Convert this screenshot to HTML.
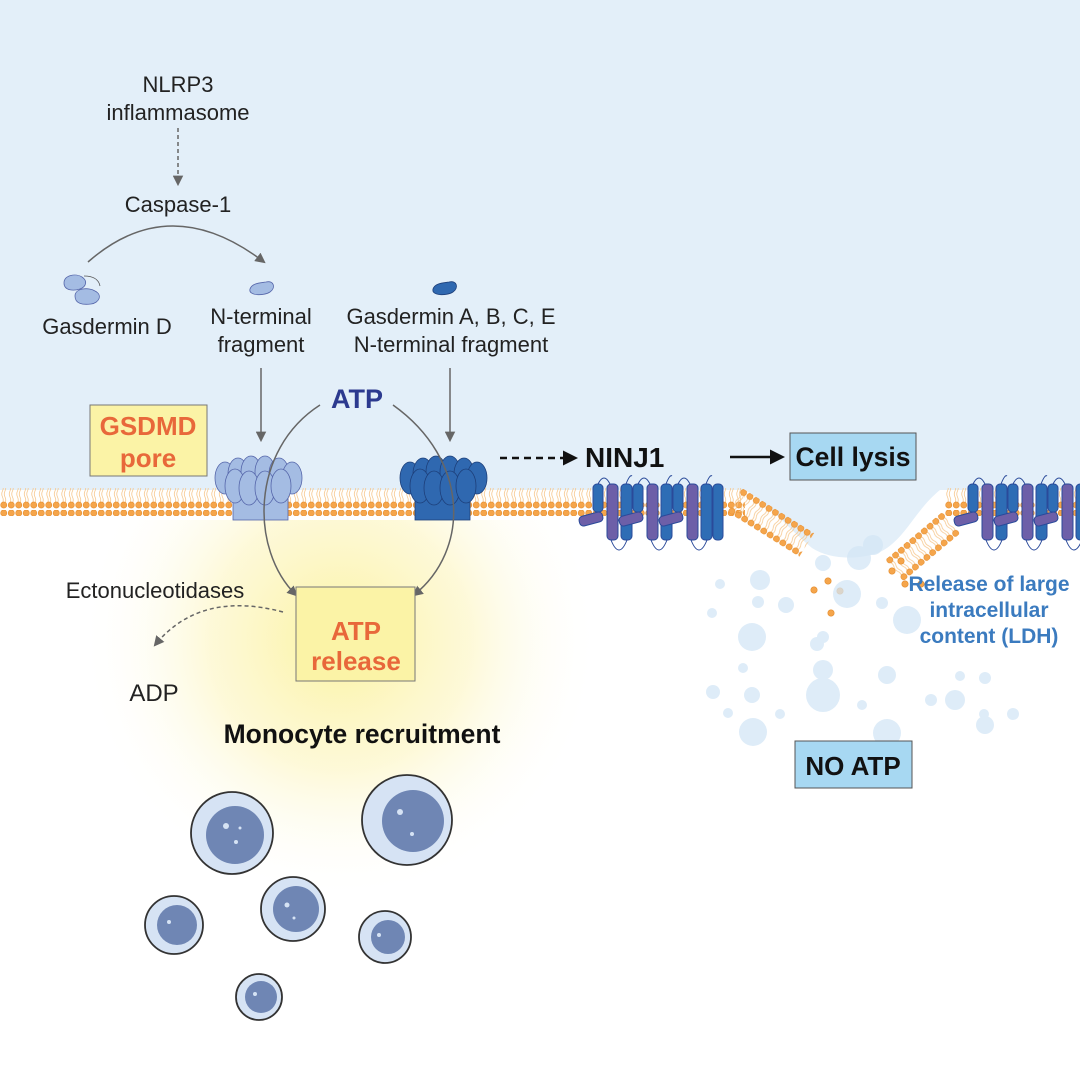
<!DOCTYPE html>
<html><head><meta charset="utf-8"><style>
html,body{margin:0;padding:0;background:#fff}
svg{display:block}
text{font-family:"Liberation Sans",Arial,sans-serif}
</style></head><body>
<svg width="1080" height="1077" viewBox="0 0 1080 1077" xmlns="http://www.w3.org/2000/svg">
<defs>
<radialGradient id="glow" cx="340" cy="640" r="260" gradientUnits="userSpaceOnUse">
<stop offset="0" stop-color="#fbf08a" stop-opacity="0.8"/>
<stop offset="0.5" stop-color="#fcf4b8" stop-opacity="0.55"/>
<stop offset="1" stop-color="#ffffff" stop-opacity="0"/>
</radialGradient>
<pattern id="lip" width="7.5" height="30" patternUnits="userSpaceOnUse">
<path d="M2.5 5 q1.5 3 0 6 q-1.5 3 0 6 q1.5 3 0 6 M5 5 q1.5 3 0 6 q-1.5 3 0 6 q1.5 3 0 6" stroke="#f6c78e" stroke-width="0.8" fill="none"/>
<circle cx="3.75" cy="3" r="3.1" fill="#f5a54b" stroke="#e48d2e" stroke-width="0.6"/>
<circle cx="3.75" cy="25" r="3.1" fill="#f5a54b" stroke="#e48d2e" stroke-width="0.6"/>
</pattern>
<marker id="ah" viewBox="0 0 10 10" refX="8" refY="5" markerWidth="7" markerHeight="7" orient="auto"><path d="M0 0 L10 5 L0 10 z" fill="#666"/></marker>
<marker id="ahb" viewBox="0 0 10 10" refX="8" refY="5" markerWidth="6" markerHeight="6" orient="auto"><path d="M0 0 L10 5 L0 10 z" fill="#111"/></marker>
<g id="nj" stroke="#2a4a9a" stroke-width="1">
<rect x="0" y="0" width="10" height="28" rx="4" fill="#2e6db5"/>
<rect x="14" y="0" width="11" height="56" rx="4" fill="#6d5fa8"/>
<rect x="28" y="0" width="11" height="56" rx="4" fill="#2e6db5"/>
<path d="M18 56 q8 20 16 0" fill="none"/>
<path d="M5 0 q6 -12 12 0 M33 0 q4 -10 6 -8" fill="none"/>
<rect x="-14" y="30" width="24" height="10" rx="4" fill="#6d5fa8" transform="rotate(-15 -2 35)"/>
</g>
</defs>

<path d="M0 0 H1080 V490 H940 C915 510 905 540 880 552 C860 560 830 560 812 548 C790 530 770 505 745 490 H0 Z" fill="#e3eff9"/>
<rect x="0" y="520" width="700" height="557" fill="url(#glow)"/>

<rect x="0" y="488" width="745" height="28" fill="url(#lip)"/>
<rect x="945" y="488" width="135" height="28" fill="url(#lip)"/>
<g transform="translate(742,488) rotate(32)"><rect x="0" y="0" width="85" height="28" fill="url(#lip)"/></g>
<g transform="translate(885,560) rotate(-40)"><rect x="0" y="0" width="75" height="28" fill="url(#lip)"/></g>
<g fill="#f5a54b" stroke="#e48d2e" stroke-width="0.6">
<circle cx="828" cy="581" r="3.2"/><circle cx="814" cy="590" r="3.2"/><circle cx="831" cy="613" r="3.2"/><circle cx="840" cy="591" r="3.2"/><circle cx="921" cy="584" r="3.2"/><circle cx="892" cy="571" r="3.2"/><circle cx="901" cy="561" r="3.2"/><circle cx="905" cy="584" r="3.2"/>
</g>

<g fill="#d3e6f6" opacity="0.75">
<circle cx="760" cy="580" r="10"/><circle cx="847" cy="594" r="14"/><circle cx="720" cy="584" r="5"/><circle cx="752" cy="637" r="14"/><circle cx="786" cy="605" r="8"/><circle cx="823" cy="637" r="6"/><circle cx="907" cy="620" r="14"/><circle cx="882" cy="603" r="6"/><circle cx="823" cy="670" r="10"/><circle cx="752" cy="695" r="8"/><circle cx="823" cy="695" r="17"/><circle cx="713" cy="692" r="7"/><circle cx="743" cy="668" r="5"/><circle cx="862" cy="705" r="5"/><circle cx="780" cy="714" r="5"/><circle cx="753" cy="732" r="14"/><circle cx="887" cy="733" r="14"/><circle cx="887" cy="675" r="9"/><circle cx="817" cy="644" r="7"/><circle cx="712" cy="613" r="5"/><circle cx="758" cy="602" r="6"/><circle cx="931" cy="700" r="6"/><circle cx="955" cy="700" r="10"/><circle cx="984" cy="714" r="5"/><circle cx="985" cy="678" r="6"/><circle cx="960" cy="676" r="5"/><circle cx="985" cy="725" r="9"/><circle cx="1013" cy="714" r="6"/><circle cx="728" cy="713" r="5"/><circle cx="859" cy="558" r="12"/><circle cx="823" cy="563" r="8"/><circle cx="873" cy="545" r="10"/>
</g>

<use href="#nj" x="593" y="484"/><use href="#nj" x="633" y="484"/><use href="#nj" x="673" y="484"/>
<use href="#nj" x="968" y="484"/><use href="#nj" x="1008" y="484"/><use href="#nj" x="1048" y="484"/>
<rect x="713" y="484" width="10" height="56" rx="4" fill="#2e6db5" stroke="#2a4a9a"/>

<g stroke="#5566aa" stroke-width="0.8" fill="#a4bce3">
<rect x="233" y="488" width="55" height="32"/>
<ellipse cx="225" cy="478" rx="10" ry="16"/><ellipse cx="238" cy="474" rx="10" ry="16"/><ellipse cx="251" cy="472" rx="10" ry="16"/><ellipse cx="265" cy="472" rx="10" ry="16"/><ellipse cx="279" cy="474" rx="10" ry="16"/><ellipse cx="292" cy="478" rx="10" ry="16"/>
<ellipse cx="235" cy="486" rx="10" ry="17"/><ellipse cx="249" cy="488" rx="10" ry="17"/><ellipse cx="265" cy="488" rx="10" ry="17"/><ellipse cx="281" cy="486" rx="10" ry="17"/>
</g>
<g stroke="#1d3f7a" stroke-width="0.8" fill="#2f68b0">
<rect x="415" y="488" width="55" height="32"/>
<ellipse cx="410" cy="478" rx="10" ry="16"/><ellipse cx="423" cy="474" rx="10" ry="16"/><ellipse cx="436" cy="472" rx="10" ry="16"/><ellipse cx="450" cy="472" rx="10" ry="16"/><ellipse cx="464" cy="474" rx="10" ry="16"/><ellipse cx="477" cy="478" rx="10" ry="16"/>
<ellipse cx="420" cy="486" rx="10" ry="17"/><ellipse cx="434" cy="488" rx="10" ry="17"/><ellipse cx="450" cy="488" rx="10" ry="17"/><ellipse cx="466" cy="486" rx="10" ry="17"/>
</g>

<g stroke="#5566aa" stroke-width="0.8" fill="#a4bce3">
<path d="M64 283 c0 -8 12 -10 18 -6 c6 4 4 10 -2 12 c-6 2 -16 2 -16 -6z"/>
<path d="M75 296 c0 -8 14 -9 20 -5 c8 4 4 12 -4 13 c-8 1 -16 0 -16 -8z"/>
<path d="M250 289 c2 -6 10 -6 16 -7 c8 -2 10 6 4 10 c-6 4 -22 4 -20 -3z"/>
</g>
<path d="M84 276 q14 0 16 10" stroke="#555" fill="none" stroke-width="0.8"/>
<path d="M433 289 c2 -6 10 -6 16 -7 c8 -2 10 6 4 10 c-6 4 -22 4 -20 -3z" fill="#2f68b0" stroke="#1d3f7a" stroke-width="0.8"/>

<g stroke="#666" stroke-width="1.5" fill="none">
<path d="M178 128 V184" stroke-dasharray="4 3" marker-end="url(#ah)"/>
<path d="M88 262 Q170 190 264 262" marker-end="url(#ah)"/>
<path d="M261 368 V440" marker-end="url(#ah)"/>
<path d="M450 368 V440" marker-end="url(#ah)"/>
<path d="M320 405 C250 450 250 550 296 595" marker-end="url(#ah)"/>
<path d="M393 405 C470 460 470 550 414 595" marker-end="url(#ah)"/>
<path d="M283 612 Q200 590 155 645" stroke-dasharray="4 3" marker-end="url(#ah)"/>
</g>
<path d="M500 458 H575" stroke="#111" stroke-width="2.5" stroke-dasharray="7 5" fill="none" marker-end="url(#ahb)"/>
<path d="M730 457 H782" stroke="#111" stroke-width="2.5" fill="none" marker-end="url(#ahb)"/>

<rect x="90" y="405" width="117" height="71" fill="#fbf3a6" stroke="#777"/>
<rect x="296" y="587" width="119" height="94" fill="#fbf3a6" stroke="#777"/>
<rect x="790" y="433" width="126" height="47" fill="#a7d8f2" stroke="#555"/>
<rect x="795" y="741" width="117" height="47" fill="#a7d8f2" stroke="#555"/>

<g font-size="22" fill="#222" text-anchor="middle">
<text x="178" y="92">NLRP3</text>
<text x="178" y="120">inflammasome</text>
<text x="178" y="212">Caspase-1</text>
<text x="107" y="334">Gasdermin D</text>
<text x="261" y="324">N-terminal</text>
<text x="261" y="352">fragment</text>
<text x="451" y="324">Gasdermin A, B, C, E</text>
<text x="451" y="352">N-terminal fragment</text>
<text x="155" y="598">Ectonucleotidases</text>
<text x="154" y="701" font-size="24">ADP</text>
</g>
<text x="357" y="408" font-size="27" font-weight="bold" fill="#2c3a8f" text-anchor="middle">ATP</text>
<g font-size="26" font-weight="bold" fill="#e8683a" text-anchor="middle">
<text x="148" y="435">GSDMD</text><text x="148" y="467">pore</text>
<text x="356" y="640">ATP</text><text x="356" y="670">release</text>
</g>
<text x="362" y="743" font-size="26.5" font-weight="bold" fill="#111" text-anchor="middle">Monocyte recruitment</text>
<text x="585" y="467" font-size="28" font-weight="bold" fill="#111">NINJ1</text>
<text x="853" y="466" font-size="26.5" font-weight="bold" fill="#111" text-anchor="middle">Cell lysis</text>
<text x="853" y="775" font-size="26" font-weight="bold" fill="#111" text-anchor="middle">NO ATP</text>
<g font-size="21" font-weight="bold" fill="#3b7bbf" text-anchor="middle">
<text x="989" y="591">Release of large</text>
<text x="989" y="617">intracellular</text>
<text x="989" y="643">content (LDH)</text>
</g>

<g stroke="#333" stroke-width="1.8" fill="#d6e3f4">
<circle cx="232" cy="833" r="41"/><circle cx="407" cy="820" r="45"/><circle cx="174" cy="925" r="29"/><circle cx="293" cy="909" r="32"/><circle cx="385" cy="937" r="26"/><circle cx="259" cy="997" r="23"/>
</g>
<g fill="#6f86b4">
<circle cx="235" cy="835" r="29"/><circle cx="413" cy="821" r="31"/><circle cx="177" cy="925" r="20"/><circle cx="296" cy="909" r="23"/><circle cx="388" cy="937" r="17"/><circle cx="261" cy="997" r="16"/>
</g>
<g fill="#d6e3f4">
<circle cx="226" cy="826" r="3"/><circle cx="240" cy="828" r="1.5"/><circle cx="236" cy="842" r="2"/><circle cx="400" cy="812" r="3"/><circle cx="412" cy="834" r="2"/><circle cx="169" cy="922" r="2"/><circle cx="287" cy="905" r="2.5"/><circle cx="294" cy="918" r="1.5"/><circle cx="379" cy="935" r="2"/><circle cx="255" cy="994" r="2"/>
</g>
</svg>
</body></html>
